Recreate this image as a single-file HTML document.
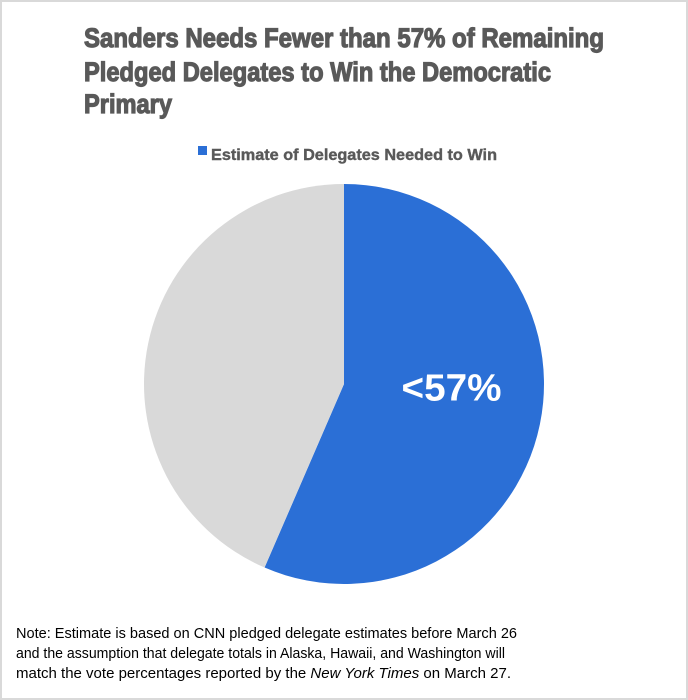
<!DOCTYPE html>
<html><head><meta charset="utf-8"><style>
html,body{margin:0;padding:0;background:#fff}
svg{display:block}
text{font-family:"Liberation Sans Narrow","Liberation Sans",sans-serif}
</style></head><body>
<svg width="688" height="700" viewBox="0 0 688 700">
<rect x="1" y="1" width="686" height="698" fill="#fff" stroke="#d9d9d9" stroke-width="2"/>
<g fill="#595959" stroke="#595959" stroke-width="1.2" font-weight="bold" font-size="27">
<text x="84" y="47" textLength="520" lengthAdjust="spacingAndGlyphs">Sanders Needs Fewer than 57% of Remaining</text>
<text x="84" y="81" textLength="467" lengthAdjust="spacingAndGlyphs">Pledged Delegates to Win the Democratic</text>
<text x="84" y="113" textLength="88" lengthAdjust="spacingAndGlyphs">Primary</text>
</g>
<g>
<rect x="198" y="146" width="9" height="9" fill="#2b6fd6"/>
<text x="211" y="160" font-size="16" font-weight="bold" fill="#595959" stroke="#595959" stroke-width="0.4" textLength="286" lengthAdjust="spacingAndGlyphs">Estimate of Delegates Needed to Win</text>
</g>
<g id="pie"></g>
<g fill="#000" font-size="15">
<text x="16" y="638" textLength="501" lengthAdjust="spacingAndGlyphs">Note: Estimate is based on CNN pledged delegate estimates before March 26</text>
<text x="16" y="658" textLength="489" lengthAdjust="spacingAndGlyphs">and the assumption that delegate totals in Alaska, Hawaii, and Washington will</text>
<text x="16" y="678" textLength="495" lengthAdjust="spacingAndGlyphs">match the vote percentages reported by the <tspan font-style="italic">New York Times</tspan> on March 27.</text>
</g>
</svg>
<script>
const categories = ["Needed to Win", "Remaining"];
const values = [56.5, 43.5];
const colors = ["#2b6fd6", "#d9d9d9"];
const labels = ["<57%", ""];
const cx = 344, cy = 384, r = 200;
const g = document.getElementById('pie');
const ns = "http://www.w3.org/2000/svg";
const total = values.reduce((a,b)=>a+b,0);
function pt(frac, rad){ const a = frac*2*Math.PI; return [cx + rad*Math.sin(a), cy - rad*Math.cos(a)]; }
let acc = 0;
values.forEach((v,i)=>{
  const f0 = acc/total, f1 = (acc+v)/total; acc += v;
  const [x0,y0] = pt(f0,r), [x1,y1] = pt(f1,r);
  const large = (f1-f0) > 0.5 ? 1 : 0;
  const p = document.createElementNS(ns,'path');
  p.setAttribute('d', `M${cx},${cy} L${x0},${y0} A${r},${r} 0 ${large} 1 ${x1},${y1} Z`);
  p.setAttribute('fill', colors[i]);
  
  
  g.appendChild(p);
  if (labels[i]) {
    const [lx,ly] = pt((f0+f1)/2, r*0.6);
    const t = document.createElementNS(ns,'text');
    t.setAttribute('x', lx-10); t.setAttribute('y', ly-8);
    t.setAttribute('text-anchor','middle');
    t.setAttribute('font-size','38'); t.setAttribute('font-weight','bold'); t.setAttribute('fill','#fff');
    t.setAttribute('textLength','100'); t.setAttribute('lengthAdjust','spacingAndGlyphs');
    t.textContent = labels[i];
    
    
    g.appendChild(t);
  }
});
</script>
</body></html>
